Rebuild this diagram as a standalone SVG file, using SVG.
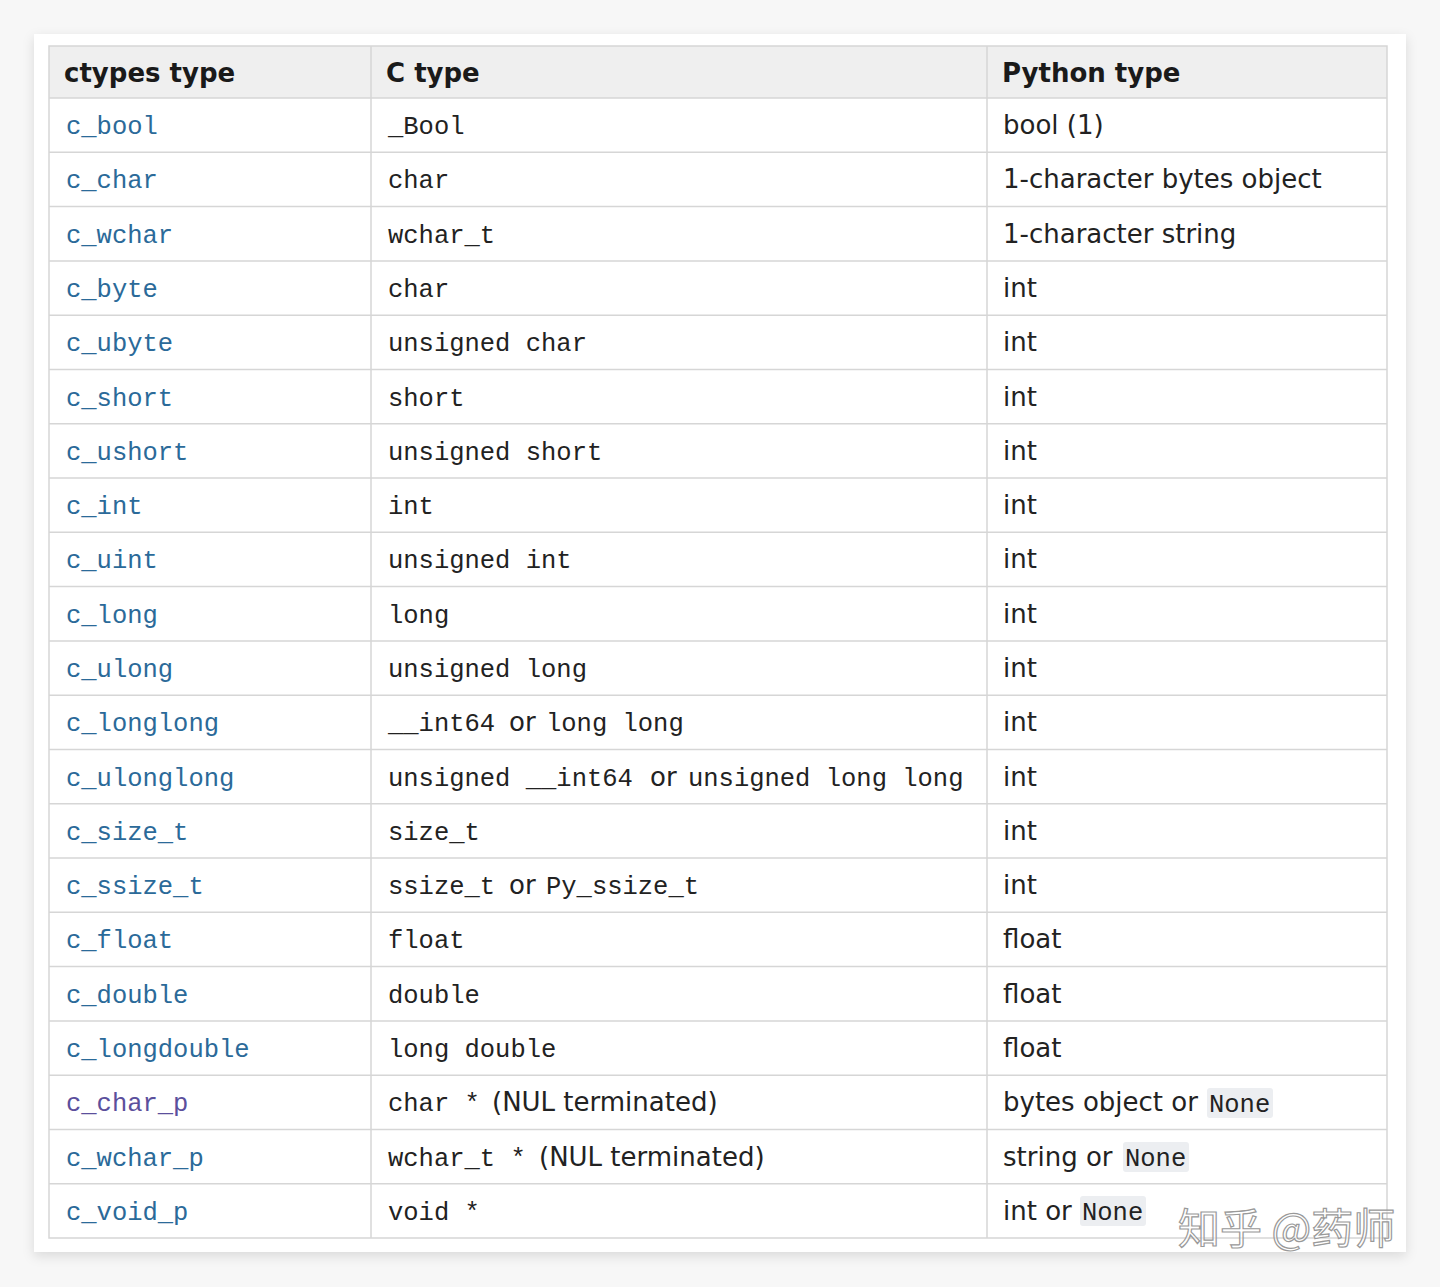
<svg xmlns="http://www.w3.org/2000/svg" width="1440" height="1287" viewBox="0 0 1440 1287">
<defs>
<filter id="sh" x="-5%" y="-5%" width="110%" height="110%"><feDropShadow dx="0" dy="4" stdDeviation="6" flood-color="#000" flood-opacity="0.12"/></filter>
<style>
.m{font-family:"Liberation Mono","DejaVu Sans Mono",monospace;font-size:25.5px;fill:#222}
.l{font-family:"Liberation Mono","DejaVu Sans Mono",monospace;font-size:25.5px;fill:#2b6a99}
.v{fill:#5b4f9c}
.s{font-family:"DejaVu Sans","Noto Sans",sans-serif;font-size:26px;fill:#222}
.h{font-family:"DejaVu Sans","Noto Sans",sans-serif;font-size:26px;font-weight:bold;fill:#1a1a1a}
.g{stroke:#d6d6d6;stroke-width:1.5;fill:none}
.nb{fill:#eceef1}
</style>
</defs>
<rect width="1440" height="1287" fill="#f7f7f7"/>
<rect x="34" y="34" width="1372" height="1218" fill="#fff" filter="url(#sh)"/>
<g id="header">
<rect x="49" y="46" width="1338" height="52" fill="#efefef"/>
<text class="h" x="64" y="82">ctypes type</text>
<text class="h" x="386" y="82">C type</text>
<text class="h" x="1002" y="82">Python type</text>
</g>
<g id="grid" class="g">
<rect x="49" y="46" width="1338" height="1192"/>
<path d="M371 46V1238M987 46V1238M49 98H1387M49 152.3H1387M49 206.6H1387M49 260.9H1387M49 315.2H1387M49 369.5H1387M49 423.7H1387M49 478H1387M49 532.3H1387M49 586.6H1387M49 640.9H1387M49 695.2H1387M49 749.5H1387M49 803.7H1387M49 858H1387M49 912.3H1387M49 966.6H1387M49 1020.9H1387M49 1075.2H1387M49 1129.5H1387M49 1183.7H1387"/>
</g>
<g id="r1"><text class="l" x="66" y="134">c_bool</text><text class="m" x="388" y="134">_Bool</text><text class="s" x="1003" y="134">bool (1)</text></g>
<g id="r2"><text class="l" x="66" y="188">c_char</text><text class="m" x="388" y="188">char</text><text class="s" x="1003" y="188">1-character bytes object</text></g>
<g id="r3"><text class="l" x="66" y="243">c_wchar</text><text class="m" x="388" y="243">wchar_t</text><text class="s" x="1003" y="243">1-character string</text></g>
<g id="r4"><text class="l" x="66" y="297">c_byte</text><text class="m" x="388" y="297">char</text><text class="s" x="1003" y="297">int</text></g>
<g id="r5"><text class="l" x="66" y="351">c_ubyte</text><text class="m" x="388" y="351">unsigned char</text><text class="s" x="1003" y="351">int</text></g>
<g id="r6"><text class="l" x="66" y="406">c_short</text><text class="m" x="388" y="406">short</text><text class="s" x="1003" y="406">int</text></g>
<g id="r7"><text class="l" x="66" y="460">c_ushort</text><text class="m" x="388" y="460">unsigned short</text><text class="s" x="1003" y="460">int</text></g>
<g id="r8"><text class="l" x="66" y="514">c_int</text><text class="m" x="388" y="514">int</text><text class="s" x="1003" y="514">int</text></g>
<g id="r9"><text class="l" x="66" y="568">c_uint</text><text class="m" x="388" y="568">unsigned int</text><text class="s" x="1003" y="568">int</text></g>
<g id="r10"><text class="l" x="66" y="623">c_long</text><text class="m" x="388" y="623">long</text><text class="s" x="1003" y="623">int</text></g>
<g id="r11"><text class="l" x="66" y="677">c_ulong</text><text class="m" x="388" y="677">unsigned long</text><text class="s" x="1003" y="677">int</text></g>
<g id="r12"><text class="l" x="66" y="731">c_longlong</text><text class="m" x="388" y="731">__int64</text><text class="s" x="509" y="731">or</text><text class="m" x="546" y="731">long long</text><text class="s" x="1003" y="731">int</text></g>
<g id="r13"><text class="l" x="66" y="786">c_ulonglong</text><text class="m" x="388" y="786">unsigned __int64</text><text class="s" x="650" y="786">or</text><text class="m" x="688" y="786">unsigned long long</text><text class="s" x="1003" y="786">int</text></g>
<g id="r14"><text class="l" x="66" y="840">c_size_t</text><text class="m" x="388" y="840">size_t</text><text class="s" x="1003" y="840">int</text></g>
<g id="r15"><text class="l" x="66" y="894">c_ssize_t</text><text class="m" x="388" y="894">ssize_t</text><text class="s" x="509" y="894">or</text><text class="m" x="546" y="894">Py_ssize_t</text><text class="s" x="1003" y="894">int</text></g>
<g id="r16"><text class="l" x="66" y="948">c_float</text><text class="m" x="388" y="948">float</text><text class="s" x="1003" y="948">float</text></g>
<g id="r17"><text class="l" x="66" y="1003">c_double</text><text class="m" x="388" y="1003">double</text><text class="s" x="1003" y="1003">float</text></g>
<g id="r18"><text class="l" x="66" y="1057">c_longdouble</text><text class="m" x="388" y="1057">long double</text><text class="s" x="1003" y="1057">float</text></g>
<g id="r19"><text class="l v" x="66" y="1111">c_char_p</text><text class="m" x="388" y="1111">char *</text><text class="s" x="492" y="1111">(NUL terminated)</text><text class="s" x="1003" y="1111">bytes object or</text><rect class="nb" x="1207" y="1088" width="66" height="30" rx="3"/><text class="m" x="1209" y="1112">None</text></g>
<g id="r20"><text class="l" x="66" y="1166">c_wchar_p</text><text class="m" x="388" y="1166">wchar_t *</text><text class="s" x="539" y="1166">(NUL terminated)</text><text class="s" x="1003" y="1166">string or</text><rect class="nb" x="1123" y="1142" width="66" height="30" rx="3"/><text class="m" x="1125" y="1166">None</text></g>
<g id="r21"><text class="l" x="66" y="1220">c_void_p</text><text class="m" x="388" y="1220">void *</text><text class="s" x="1003" y="1220">int or</text><rect class="nb" x="1080" y="1196" width="66" height="30" rx="3"/><text class="m" x="1082" y="1220">None</text></g>
<text x="1178" y="1244" font-family="Noto Sans CJK SC,sans-serif" font-size="42" fill="#fff" fill-opacity="0.6" stroke="#999" stroke-width="1.2">知乎 @药师</text>
</svg>
